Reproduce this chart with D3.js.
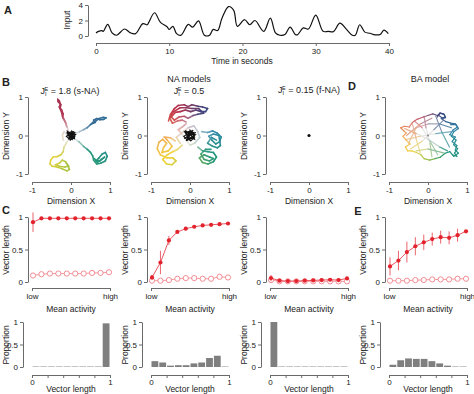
<!DOCTYPE html>
<html>
<head>
<meta charset="utf-8">
<script src="https://cdn.jsdelivr.net/npm/d3@7"></script>
<style>
  body { margin: 0; background: #fff; }
  svg { font-family: Arial, "Liberation Sans", sans-serif; }
</style>
</head>
<body>
<svg id="fig" width="474" height="394"></svg>
<script>
// ---------- data ----------
// panel A: input trace [time in s, input]
const inputTrace = [[0,0.4],[0.35,0.6],[0.8,0.7],[1.0,0.6],[1.6,1.5],[2.2,0.4],[2.8,0.1],[3.9,0.9],[4.7,0.4],[5.4,0.3],
  [6.4,1.6],[7.0,1.45],[7.2,1.75],[8.0,3.0],[8.8,1.75],[9.7,1.2],[10.0,0.85],[10.5,1.25],[11.0,0.3],[11.6,0.1],
  [12.6,1.5],[13.2,1.15],[14.0,1.95],[14.8,0.1],[15.5,0.1],[16.0,0.85],[16.6,0.7],[17.2,2.3],[18.1,3.8],[18.8,3.3],
  [19.3,1.25],[20.3,2.1],[21.0,1.45],[21.7,2.0],[22.9,0.6],[23.8,2.3],[24.5,0.4],[25.1,0.1],[25.8,0.2],[26.5,1.15],
  [27.2,0.2],[27.5,0.15],[28.3,1.05],[29.0,0.9],[30.0,2.7],[31.0,0.6],[31.7,0.6],[32.4,0.55],[33.3,1.65],[34.2,0.85],
  [35.0,0.1],[35.4,0.1],[36.0,1.45],[36.7,0.5],[37.4,0.35],[38.1,0.15],[38.8,0.2],[39.3,0.75],[39.9,0.3]];
const timeTicks = [0, 10, 20, 30, 40];
const inputTicks = [0, 2, 4];

// panel B/D: trajectories in the 2D embedding [dim X, dim Y]
const sNACenter = [[-0.08,0.03],[-0.02,0.09],[0.06,0.1],[0.02,0.0],[-0.05,-0.07],[0.04,-0.06],[0.1,-0.02],[0.05,0.05],
  [-0.1,0.08],[-0.06,-0.01],[0.03,-0.11],[0.08,-0.04],[0.08,0.06],[-0.03,0.04],[-0.12,-0.02],[-0.04,-0.09],
  [0.02,0.12],[0.09,0.02],[0.09,-0.08],[-0.01,-0.04],[-0.04,0.05],[0.12,0.03],[-0.02,-0.12],[-0.09,0.11],[0.05,0.0],
  [-0.07,-0.1],[0.11,0.09],[0.0,0.02],[-0.11,0.05],[0.07,-0.05],[-0.03,0.08],[0.04,-0.04]];
const sNAPaths = [
  [[-0.06,0.1],[-0.1,0.22],[-0.13,0.32],[-0.18,0.42],[-0.22,0.5],[-0.24,0.6],[-0.28,0.7],[-0.26,0.8],[-0.33,0.88],[-0.34,0.94],
   [-0.3,0.9],[-0.27,0.82],[-0.3,0.74],[-0.24,0.66],[-0.2,0.56],[-0.21,0.46],[-0.15,0.36],[-0.12,0.25]],
  [[0.1,0.05],[0.22,0.1],[0.32,0.15],[0.41,0.2],[0.5,0.28],[0.56,0.34],[0.64,0.38],[0.72,0.44],[0.82,0.47],[0.9,0.46],
   [0.84,0.42],[0.74,0.41],[0.66,0.44],[0.58,0.4],[0.62,0.34],[0.52,0.3]],
  [[0.08,-0.08],[0.2,-0.16],[0.32,-0.28],[0.42,-0.36],[0.5,-0.44],[0.56,-0.54],[0.58,-0.64],[0.66,-0.74],[0.76,-0.72],[0.88,-0.66],
   [0.93,-0.54],[0.88,-0.44],[0.8,-0.48],[0.72,-0.58],[0.64,-0.66],[0.74,-0.66],[0.86,-0.56],[0.78,-0.62],[0.68,-0.7],[0.6,-0.6]],
  [[-0.06,-0.1],[-0.12,-0.2],[-0.18,-0.3],[-0.2,-0.42],[-0.26,-0.5],[-0.36,-0.55],[-0.46,-0.56],[-0.52,-0.64],[-0.54,-0.74],[-0.48,-0.8],
   [-0.36,-0.82],[-0.24,-0.86],[-0.1,-0.92],[-0.04,-0.88],[-0.08,-0.78],[-0.14,-0.68],[-0.22,-0.64],[-0.3,-0.72],[-0.4,-0.76],
   [-0.3,-0.8],[-0.16,-0.82],[-0.06,-0.8],[-0.12,-0.72]],
  [[-0.1,0.02],[-0.18,0.1],[-0.22,0.02],[-0.2,-0.12]]
];
const na05Center = [[-0.12,0.05],[-0.06,0.1],[0.05,0.12],[0.0,0.04],[-0.08,-0.1],[0.03,-0.08],[0.12,-0.04],[0.06,0.04],
  [-0.14,0.1],[-0.08,0.0],[0.02,-0.14],[0.09,-0.07],[0.1,0.08],[-0.03,0.06],[-0.16,-0.02],[-0.06,-0.12],[0.0,0.14],
  [0.08,0.02],[0.12,-0.1],[-0.01,-0.05],[-0.05,0.04],[0.14,0.02],[-0.02,-0.12],[-0.12,0.13],[0.06,-0.02],[-0.1,-0.14],
  [0.08,0.14],[-0.04,0.0],[0.15,0.08],[-0.15,-0.08],[0.04,0.06],[-0.07,0.09]];
const na05Paths = [
  [[-0.55,0.38],[-0.5,0.55],[-0.4,0.7],[-0.3,0.78],[-0.15,0.8],[-0.05,0.75],[0.05,0.8],[0.2,0.76],[0.32,0.74],[0.45,0.7],
   [0.4,0.62],[0.28,0.62],[0.15,0.66],[0.02,0.62],[-0.12,0.66],[-0.25,0.62],[-0.38,0.6],[-0.48,0.48],[-0.4,0.4],[-0.28,0.48],
   [-0.15,0.5],[-0.05,0.45],[0.08,0.52],[0.2,0.55],[0.35,0.58],[0.22,0.7],[0.05,0.7],[-0.1,0.72],[-0.25,0.72],[-0.42,0.62],
   [-0.52,0.45],[-0.45,0.32],[-0.32,0.38],[-0.2,0.4],[-0.1,0.35]],
  [[0.3,0.1],[0.45,0.08],[0.58,0.12],[0.7,0.06],[0.8,-0.04],[0.76,-0.16],[0.66,-0.22],[0.56,-0.12],[0.48,-0.02],[0.6,0.04],
   [0.74,0.0],[0.78,-0.26],[0.7,-0.32],[0.58,-0.28],[0.45,-0.2],[0.55,-0.05],[0.68,-0.12]],
  [[0.2,-0.3],[0.32,-0.4],[0.46,-0.42],[0.6,-0.44],[0.68,-0.56],[0.6,-0.68],[0.46,-0.74],[0.32,-0.7],[0.24,-0.58],[0.36,-0.5],
   [0.5,-0.56],[0.6,-0.6],[0.5,-0.66],[0.36,-0.62],[0.28,-0.48],[0.4,-0.36],[0.54,-0.36]],
  [[-0.2,-0.25],[-0.32,-0.36],[-0.44,-0.42],[-0.58,-0.5],[-0.7,-0.62],[-0.6,-0.74],[-0.46,-0.76],[-0.36,-0.66],[-0.44,-0.58],
   [-0.6,-0.58],[-0.76,-0.5],[-0.84,-0.34],[-0.8,-0.18],[-0.7,-0.1],[-0.6,-0.2],[-0.68,-0.32],[-0.72,-0.44],[-0.56,-0.4],
   [-0.46,-0.28],[-0.58,-0.12],[-0.66,-0.04],[-0.5,-0.06],[-0.38,-0.14]],
  [[-0.1,0.3],[-0.2,0.22],[-0.3,0.15],[-0.22,0.05],[0.0,-0.25],[0.12,-0.2],[0.25,-0.05],[0.2,0.1],[0.1,0.25],[-0.05,0.2],
   [-0.35,-0.05],[-0.25,-0.2]]
];
const fNACenter = [[0,0]];
const baPaths = [
  [[-0.62,0.12],[-0.7,0.2],[-0.6,0.24],[-0.48,0.22],[-0.4,0.34],[-0.28,0.42],[-0.12,0.48],[0.0,0.52],[0.12,0.56],[0.24,0.52],
   [0.32,0.58],[0.42,0.54],[0.44,0.46],[0.34,0.44],[0.46,0.36],[0.58,0.32],[0.7,0.3],[0.76,0.22],[0.64,0.14],[0.56,0.02],
   [0.7,-0.04],[0.62,-0.16],[0.74,-0.26],[0.7,-0.38],[0.78,-0.46],[0.66,-0.54],[0.56,-0.42],[0.44,-0.46],[0.32,-0.56],
   [0.18,-0.6],[0.04,-0.64],[-0.1,-0.6],[-0.18,-0.5],[-0.3,-0.44],[-0.42,-0.4],[-0.52,-0.4],[-0.58,-0.3],[-0.46,-0.22],
   [-0.56,-0.12],[-0.64,-0.02],[-0.56,0.06],[-0.62,0.12]],
  [[0.24,0.48],[0.3,0.58],[0.4,0.56],[0.45,0.48],[0.36,0.46],[0.28,0.52]],
  [[0.58,0.28],[0.72,0.28],[0.78,0.18],[0.66,0.1],[0.6,-0.02],[0.72,-0.12],[0.66,-0.24],[0.76,-0.34],[0.68,-0.46],[0.74,-0.54],[0.62,-0.5]],
  [[-0.6,0.18],[-0.3,0.05],[0.0,-0.1],[0.3,-0.3],[0.5,-0.4]],
  [[-0.1,0.5],[-0.05,0.2],[0.05,-0.2],[0.1,-0.55]],
  [[0.4,0.4],[0.15,0.15],[-0.15,-0.15],[-0.45,-0.35]],
  [[-0.55,-0.1],[-0.2,-0.02],[0.2,0.05],[0.6,0.1]],
  [[0.25,-0.5],[0.05,-0.15],[-0.15,0.2],[-0.35,0.38]],
  [[-0.4,0.3],[-0.3,-0.1],[-0.2,-0.45]],
  [[0.2,0.5],[0.35,0.1],[0.55,-0.3]],
  [[-0.55,0.0],[-0.2,0.3],[0.1,0.45]],
  [[-0.3,-0.4],[0.0,-0.35],[0.4,-0.45]],
  [[0.6,0.2],[0.3,0.3],[0.0,0.3],[-0.3,0.2],[-0.5,-0.2]]
];
const dimTicks = [-1, 0, 1];

// panel C/E: vector length per mean-activity bin
const activityBins = [1, 2, 3, 4, 5, 6, 7, 8, 9, 10];
const vecSNA     = [0.92,0.98,0.98,0.98,0.98,0.98,0.98,0.98,0.98,0.98];
const vecSNAErr  = [0.15,0.01,0.005,0.005,0.005,0.005,0.005,0.005,0.005,0.005];
const shufSNA    = [0.10,0.12,0.13,0.13,0.13,0.13,0.13,0.14,0.14,0.15];
const vecNA05    = [0.07,0.30,0.64,0.77,0.82,0.85,0.87,0.88,0.89,0.90];
const vecNA05Err = [0.04,0.18,0.07,0.02,0.01,0.01,0.01,0.01,0.01,0.01];
const shufNA05   = [0.02,0.02,0.03,0.05,0.06,0.06,0.05,0.05,0.08,0.07];
const vecFNA     = [0.06,0.02,0.015,0.015,0.02,0.025,0.03,0.035,0.03,0.055];
const vecFNAErr  = [0.05,0.01,0.01,0.01,0.01,0.01,0.01,0.01,0.01,0.01];
const shufFNA    = [0.03,0.01,0.01,0.01,0.01,0.01,0.01,0.01,0.01,0.01];
const vecBA      = [0.24,0.33,0.46,0.55,0.61,0.66,0.69,0.68,0.72,0.78];
const vecBAErr   = [0.14,0.15,0.16,0.14,0.12,0.10,0.10,0.10,0.10,0.01];
const shufBA     = [0.02,0.02,0.02,0.03,0.03,0.04,0.04,0.04,0.05,0.05];
const vecTicks = [0, 0.5, 1];

// bottom row: histogram of vector length
const binStarts = [0, 0.1, 0.2, 0.3, 0.4, 0.5, 0.6, 0.7, 0.8, 0.9];
const propSNA  = [0.01,0.01,0.01,0.01,0.01,0.01,0.01,0.01,0.01,0.97];
const propNA05 = [0.13,0.10,0.03,0.04,0.04,0.08,0.10,0.20,0.25,0.01];
const propFNA  = [1.00,0.01,0.01,0.01,0.01,0.01,0.01,0.01,0.01,0.01];
const propBA   = [0.05,0.15,0.19,0.18,0.18,0.13,0.08,0.03,0.01,0.01];
const lengthTicks = [0, 0.2, 0.4, 0.6, 0.8, 1];

// ---------- layout ----------
const svg = d3.select("#fig");
const colX = [32, 151, 270, 389];
const panelW = 78;
const axisCol = "#6a6a6a";
const textCol = "#222";
const redDark = "#e2222c";
const redLight = "#f08088";

function styleAxis(g) {
  g.attr("font-family", null).attr("font-size", null);
  g.select(".domain").attr("stroke", axisCol);
  g.selectAll(".tick line").attr("stroke", axisCol);
  g.selectAll(".tick text").attr("fill", textCol).style("font-size", "8px");
}

function label(x, y, txt, opts = {}) {
  const t = svg.append("text")
    .attr("x", x).attr("y", y)
    .attr("dy", "0.35em")
    .attr("text-anchor", opts.anchor || "middle")
    .attr("fill", textCol)
    .style("font-size", (opts.size || 8.5) + "px")
    .style("font-weight", opts.bold ? "bold" : null)
    .text(txt);
  if (opts.rotate) t.attr("transform", `rotate(-90,${x},${y})`);
  return t;
}

// title with J subscript I superscript E
function jTitle(x, y, rest) {
  const t = svg.append("text")
    .attr("x", x).attr("y", y).attr("dy", "0.35em")
    .attr("text-anchor", "middle").attr("fill", textCol)
    .style("font-size", "9px");
  t.append("tspan").text("J");
  t.append("tspan").attr("dy", 2).style("font-size", "5.5px").text("I");
  t.append("tspan").attr("dx", -2).attr("dy", -5).style("font-size", "5.5px").text("E");
  t.append("tspan").attr("dy", 3).text(" = " + rest);
}

// panel letters
label(4, 10, "A", {anchor: "start", size: 11, bold: true});
label(2, 82, "B", {anchor: "start", size: 11, bold: true});
label(2, 210, "C", {anchor: "start", size: 11, bold: true});
label(352, 86, "D", {anchor: "middle", size: 11, bold: true});
label(358, 211, "E", {anchor: "middle", size: 11, bold: true});

// ---------- panel A ----------
const xA = d3.scaleLinear().domain([0, 40]).range([96, 389]);
const yA = d3.scaleLinear().domain([0, 4]).range([36, 5]);
svg.append("g").attr("transform", "translate(0,43)")
  .call(d3.axisBottom(xA).tickValues(timeTicks).tickSize(3).tickSizeOuter(0).tickPadding(2).tickFormat(d3.format("d")))
  .call(styleAxis);
svg.append("g").attr("transform", "translate(88,0)")
  .call(d3.axisLeft(yA).tickValues(inputTicks).tickSize(3).tickSizeOuter(0).tickPadding(2).tickFormat(d3.format("d")))
  .call(styleAxis);
svg.append("path")
  .datum(inputTrace)
  .attr("fill", "none")
  .attr("stroke", "#111")
  .attr("stroke-width", 1.2)
  .attr("d", d3.line().x(d => xA(d[0])).y(d => yA(d[1])).curve(d3.curveCatmullRom.alpha(0.5)));
label(67, 20, "Input", {rotate: true});
label(242, 61, "Time in seconds");

// ---------- panels B / D ----------
const angleStops = [-180, -135, -95, -45, 10, 60, 120, 180];
const hueColors = ["#f2a65a", "#f0d43a", "#a9c443", "#23977a", "#2e86a8", "#3d4680", "#c23048", "#f2a65a"];
const hue = d3.scaleLinear().domain(angleStops).range(hueColors).interpolate(d3.interpolateRgb);
function trajColor(x, y) {
  const r = Math.hypot(x, y);
  const a = Math.atan2(y, x) * 180 / Math.PI;
  const t = Math.max(0, Math.min(1, (r - 0.12) / 0.5));
  return d3.interpolateRgb("#e6e6e6", hue(a))(t);
}

const yS = d3.scaleLinear().domain([-1, 1]).range([174, 97]);
const scatterPanels = [
  {center: sNACenter, paths: sNAPaths, width: 1.6},
  {center: na05Center, paths: na05Paths, width: 1.6},
  {center: fNACenter, paths: [], width: 1},
  {center: [], paths: baPaths, width: 1.2}
];
scatterPanels.forEach((p, i) => {
  const x0 = colX[i];
  const xS = d3.scaleLinear().domain([-1, 1]).range([x0, x0 + panelW]);
  svg.append("g").attr("transform", "translate(0,182)")
    .call(d3.axisBottom(xS).tickValues(dimTicks).tickSize(3).tickSizeOuter(0).tickPadding(2).tickFormat(d => String(d)))
    .call(styleAxis);
  svg.append("g").attr("transform", `translate(${x0 - 4},0)`)
    .call(d3.axisLeft(yS).tickValues(dimTicks).tickSize(3).tickSizeOuter(0).tickPadding(2).tickFormat(d => String(d)))
    .call(styleAxis);
  label(x0 + 39, 201, "Dimension X");
  label(x0 - 26, 136, "Dimension Y", {rotate: true});

  const g = svg.append("g");
  const segs = [];
  p.paths.forEach(path => {
    for (let k = 0; k < path.length - 1; k++) segs.push([path[k], path[k + 1]]);
  });
  // pale segments first, saturated on top
  segs.sort((a, b) => Math.hypot(a[0][0] + a[1][0], a[0][1] + a[1][1]) - Math.hypot(b[0][0] + b[1][0], b[0][1] + b[1][1]));
  g.selectAll("line.seg").data(segs).join("line")
    .attr("x1", d => xS(d[0][0])).attr("y1", d => yS(d[0][1]))
    .attr("x2", d => xS(d[1][0])).attr("y2", d => yS(d[1][1]))
    .attr("stroke", d => trajColor((d[0][0] + d[1][0]) / 2, (d[0][1] + d[1][1]) / 2))
    .attr("stroke-width", p.width)
    .attr("stroke-linecap", "round");
  if (p.center.length > 1) {
    g.append("path").datum(p.center)
      .attr("fill", "none").attr("stroke", "#111").attr("stroke-width", 1.1)
      .attr("d", d3.line().x(d => xS(d[0])).y(d => yS(d[1])));
  } else if (p.center.length === 1) {
    g.append("circle").attr("cx", xS(p.center[0][0])).attr("cy", yS(p.center[0][1]))
      .attr("r", 1.6).attr("fill", "#111");
  } else {
    g.append("circle").attr("cx", xS(0)).attr("cy", yS(0)).attr("r", 1).attr("fill", "#888");
  }
});
label(189, 79, "NA models", {size: 9});
jTitle(70, 91, "1.8 (s-NA)");
jTitle(189, 91, "0.5");
jTitle(309, 90, "0.15 (f-NA)");
label(430, 79, "BA model", {size: 9});

// ---------- panels C / E ----------
const yC = d3.scaleLinear().domain([0, 1]).range([282, 217]);
const vecPanels = [
  {mean: vecSNA, err: vecSNAErr, shuf: shufSNA},
  {mean: vecNA05, err: vecNA05Err, shuf: shufNA05},
  {mean: vecFNA, err: vecFNAErr, shuf: shufFNA},
  {mean: vecBA, err: vecBAErr, shuf: shufBA}
];
vecPanels.forEach((p, i) => {
  const x0 = colX[i];
  const xC = d3.scalePoint().domain(activityBins).range([x0 + 1, x0 + 77]);
  const xEnds = d3.scaleLinear().domain([0, 1]).range([x0, x0 + panelW]);
  svg.append("g").attr("transform", "translate(0,288)")
    .call(d3.axisBottom(xEnds).tickValues([0, 1]).tickSize(3).tickSizeOuter(0).tickPadding(2).tickFormat(d => d === 0 ? "low" : "high"))
    .call(styleAxis);
  svg.append("g").attr("transform", `translate(${x0 - 4},0)`)
    .call(d3.axisLeft(yC).tickValues(vecTicks).tickSize(3).tickSizeOuter(0).tickPadding(2).tickFormat(d => String(d)))
    .call(styleAxis);
  label(x0 + 39, 309, "Mean activity");
  label(x0 - 26, 250, "Vector length", {rotate: true});

  const g = svg.append("g");
  const line = d3.line().x((d, k) => xC(activityBins[k])).y(d => yC(d));
  // shuffled (open circles)
  g.append("path").datum(p.shuf).attr("fill", "none").attr("stroke", redLight).attr("stroke-width", 0.8).attr("d", line);
  g.selectAll("circle.shuf").data(p.shuf).join("circle").attr("class", "shuf")
    .attr("cx", (d, k) => xC(activityBins[k])).attr("cy", d => yC(d))
    .attr("r", 2.6).attr("fill", "#fff").attr("stroke", redLight).attr("stroke-width", 0.9);
  // data (filled)
  g.selectAll("line.err").data(p.mean).join("line").attr("class", "err")
    .attr("x1", (d, k) => xC(activityBins[k])).attr("x2", (d, k) => xC(activityBins[k]))
    .attr("y1", (d, k) => yC(d - p.err[k])).attr("y2", (d, k) => yC(d + p.err[k]))
    .attr("stroke", "#e8545c").attr("stroke-width", 0.9);
  g.append("path").datum(p.mean).attr("fill", "none").attr("stroke", "#e8454e").attr("stroke-width", 0.9).attr("d", line);
  g.selectAll("circle.vec").data(p.mean).join("circle").attr("class", "vec")
    .attr("cx", (d, k) => xC(activityBins[k])).attr("cy", d => yC(d))
    .attr("r", 2.1).attr("fill", redDark);
});

// ---------- histograms ----------
const yH = d3.scaleLinear().domain([0, 1]).range([367, 322]);
const histPanels = [propSNA, propNA05, propFNA, propBA];
histPanels.forEach((prop, i) => {
  const x0 = colX[i];
  const xH = d3.scaleLinear().domain([0, 1]).range([x0, x0 + panelW]);
  svg.append("g").attr("transform", "translate(0,375)")
    .call(d3.axisBottom(xH).tickValues(lengthTicks).tickSize(3).tickSizeOuter(0).tickPadding(1.5)
      .tickFormat(d => (d === 0 || d === 1) ? String(d) : ""))
    .call(styleAxis);
  svg.append("g").attr("transform", `translate(${x0 - 9},0)`)
    .call(d3.axisLeft(yH).tickValues(vecTicks).tickSize(3).tickSizeOuter(0).tickPadding(2).tickFormat(d => String(d)))
    .call(styleAxis);
  label(x0 + 39, 389.5, "Vector length");
  label(x0 - 26, 345, "Proportion", {rotate: true});

  svg.append("g").selectAll("rect").data(prop).join("rect")
    .attr("x", (d, k) => xH(binStarts[k]) + 0.5)
    .attr("width", xH(0.1) - xH(0) - 1)
    .attr("y", d => yH(d))
    .attr("height", d => yH(0) - yH(d))
    .attr("fill", "#7f7f7f");
});
</script>
</body>
</html>
